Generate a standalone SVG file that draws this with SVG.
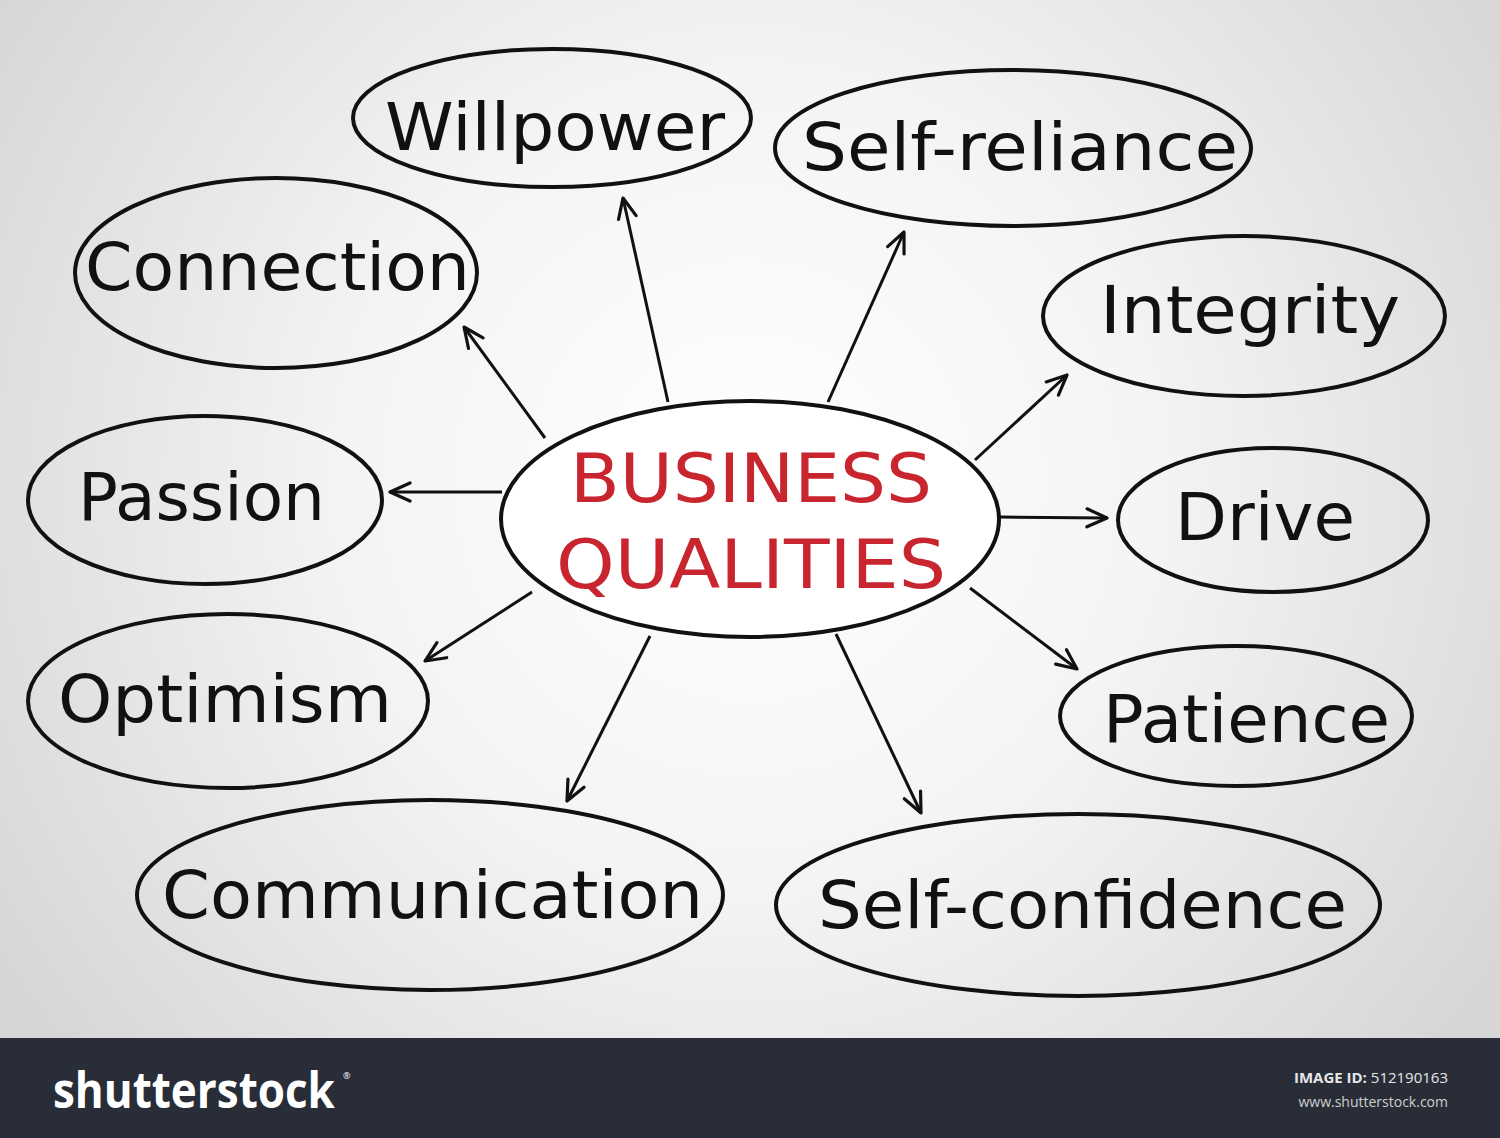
<svg xmlns="http://www.w3.org/2000/svg" width="1500" height="1138" viewBox="0 0 1500 1138">
<defs>
<radialGradient id="bg" cx="750" cy="480" r="900" gradientUnits="userSpaceOnUse">
<stop offset="0" stop-color="#ffffff"/>
<stop offset="0.45" stop-color="#f4f4f4"/>
<stop offset="1" stop-color="#d6d6d6"/>
</radialGradient>
<marker id="ah" markerWidth="26" markerHeight="26" refX="22" refY="11" orient="auto" markerUnits="userSpaceOnUse" viewBox="0 0 26 22">
<path d="M2,2 L22,11 L2,20" fill="none" stroke="#111" stroke-width="3.2" stroke-linecap="round" stroke-linejoin="round"/>
</marker>
</defs>
<style>
.node ellipse{fill:none;stroke:#111;stroke-width:4}
.lbl{font-family:"DejaVu Sans","Noto Sans",sans-serif;font-size:66px;fill:#111}
.title{font-family:"DejaVu Sans","Noto Sans",sans-serif;font-size:68px;fill:#c8252f}
.conn line{stroke:#111;stroke-width:3;marker-end:url(#ah)}
</style>
<rect x="0" y="0" width="1500" height="1138" fill="url(#bg)"/>
<g class="conn" id="connectors">
<line x1="668" y1="402" x2="623" y2="198"/>
<line x1="828" y1="402" x2="904" y2="232"/>
<line x1="545" y1="438" x2="464" y2="327"/>
<line x1="975" y1="460" x2="1067" y2="375"/>
<line x1="502" y1="492" x2="390" y2="492"/>
<line x1="1000" y1="517" x2="1107" y2="518"/>
<line x1="532" y1="592" x2="425" y2="661"/>
<line x1="970" y1="588" x2="1077" y2="669"/>
<line x1="650" y1="636" x2="567" y2="801"/>
<line x1="836" y1="634" x2="921" y2="813"/>
</g>
<g class="node" id="center">
<ellipse cx="750" cy="519" rx="249" ry="118" style="fill:#fff"/>
<text class="title" x="751" y="502" text-anchor="middle" textLength="362" lengthAdjust="spacingAndGlyphs">BUSINESS</text>
<text class="title" x="751" y="588" text-anchor="middle" textLength="390" lengthAdjust="spacingAndGlyphs">QUALITIES</text>
</g>
<g class="node" id="willpower">
<ellipse cx="552" cy="118" rx="199" ry="69"/>
<text class="lbl" x="385" y="150" textLength="340" lengthAdjust="spacingAndGlyphs">Willpower</text>
</g>
<g class="node" id="self-reliance">
<ellipse cx="1013" cy="148" rx="238" ry="78"/>
<text class="lbl" x="802" y="170" textLength="436" lengthAdjust="spacingAndGlyphs">Self-reliance</text>
</g>
<g class="node" id="connection">
<ellipse cx="276" cy="273" rx="201" ry="95"/>
<text class="lbl" x="85" y="290" textLength="385" lengthAdjust="spacingAndGlyphs">Connection</text>
</g>
<g class="node" id="integrity">
<ellipse cx="1244" cy="316" rx="201" ry="80"/>
<text class="lbl" x="1100" y="333" textLength="300" lengthAdjust="spacingAndGlyphs">Integrity</text>
</g>
<g class="node" id="passion">
<ellipse cx="205" cy="500" rx="177" ry="84"/>
<text class="lbl" x="78" y="520" textLength="247" lengthAdjust="spacingAndGlyphs">Passion</text>
</g>
<g class="node" id="drive">
<ellipse cx="1273" cy="520" rx="155" ry="72"/>
<text class="lbl" x="1175" y="540" textLength="180" lengthAdjust="spacingAndGlyphs">Drive</text>
</g>
<g class="node" id="optimism">
<ellipse cx="228" cy="701" rx="200" ry="87"/>
<text class="lbl" x="58" y="722" textLength="334" lengthAdjust="spacingAndGlyphs">Optimism</text>
</g>
<g class="node" id="patience">
<ellipse cx="1236" cy="716" rx="176" ry="70"/>
<text class="lbl" x="1103" y="742" textLength="287" lengthAdjust="spacingAndGlyphs">Patience</text>
</g>
<g class="node" id="communication">
<ellipse cx="430" cy="895" rx="293" ry="95"/>
<text class="lbl" x="162" y="918" textLength="541" lengthAdjust="spacingAndGlyphs">Communication</text>
</g>
<g class="node" id="self-confidence">
<ellipse cx="1078" cy="905" rx="302" ry="91"/>
<text class="lbl" x="818" y="928" textLength="529" lengthAdjust="spacingAndGlyphs">Self-confidence</text>
</g>
<g id="footer">
<rect x="0" y="1038" width="1500" height="100" fill="#282d38"/>
<text x="0" y="0" transform="translate(53,1108) scale(0.88,1)" font-family="'Open Sans','Noto Sans',sans-serif" font-weight="700" font-size="50" fill="#fff">shutterstock</text>
<text x="343" y="1079" font-family="'Open Sans',sans-serif" font-size="9" fill="#fff">®</text>
<text x="1448" y="1083" text-anchor="end" font-family="'Open Sans','Noto Sans',sans-serif" font-size="15" fill="#e6e6e6"><tspan font-weight="700">IMAGE ID:</tspan> 512190163</text>
<text x="1448" y="1107" text-anchor="end" font-family="'Open Sans','Noto Sans',sans-serif" font-size="14" fill="#cfcfcf">www.shutterstock.com</text>
</g>
</svg>
